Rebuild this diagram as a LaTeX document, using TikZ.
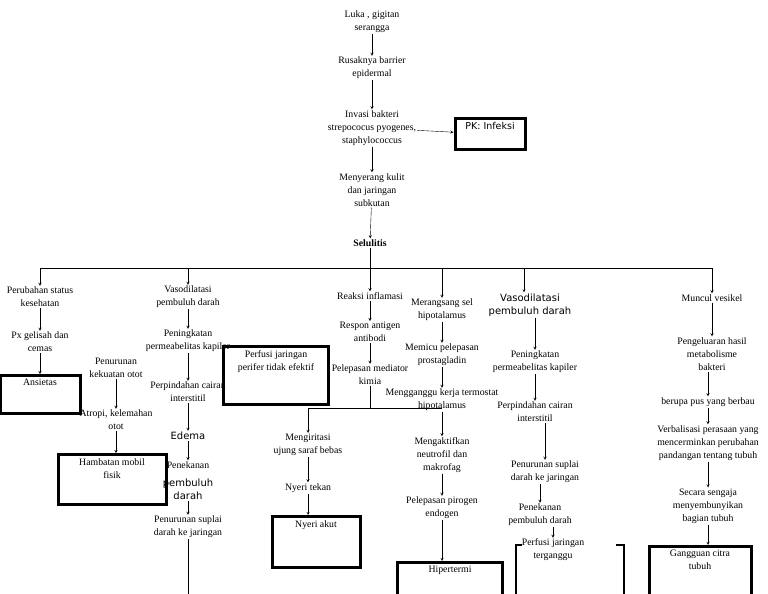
\documentclass[tikz,border=0pt]{standalone}
\usepackage{fontspec}
\setmainfont{Liberation Serif}
\newfontfamily\sansf{DejaVu Sans}
\usetikzlibrary{positioning}
\begin{document}
\begin{tikzpicture}[x=1pt,y=-1pt,
  txt/.style={align=center,font=\fontsize{9.8}{13}\selectfont,inner sep=1pt},
  stxt/.style={align=center,font=\sansf\fontsize{10}{13}\selectfont,inner sep=1pt},
  box/.style 2 args={draw,line width=3pt,minimum width=#1,text depth=#2,align=center,
     anchor=north,font=\fontsize{9.8}{13}\selectfont,inner xsep=2pt,inner ysep=4pt},
  arr/.style={->,>=stealth,thin}]
\useasboundingbox (0,0) rectangle (768,594);
% alur utama
\node[txt] (luka) at (372,22) {Luka , gigitan\\serangga};
\node[txt] (rusak) at (372,68) {Rusaknya barrier\\epidermal};
\node[txt] (invasi) at (372,128) {Invasi bakteri\\strepococus pyogenes,\\staphylococcus};
\node[box={70pt}{16pt},font=\sansf\fontsize{9.5}{12}\selectfont] (pk) at (490,117) {PK: Infeksi};
\node[txt] (serang) at (372,190) {Menyerang kulit\\dan jaringan\\subkutan};
\node[txt,font=\bfseries\fontsize{9.8}{13}\selectfont] (sel) at (370,243) {Selulitis};
\draw[arr] (luka) -- (rusak);
\draw[arr] (rusak) -- (invasi);
\draw[arr] (invasi) -- (pk);
\draw[arr] (invasi) -- (serang);
\draw[arr] (serang) -- (sel);
\coordinate (bar) at (370,268);
\draw (sel) -- (bar);
\draw (40,268) -- (712,268);
% kolom kiri
\node[txt] (ubah) at (40,297) {Perubahan status\\kesehatan};
\node[txt] (px) at (40,342) {Px gelisah dan\\cemas};
\node[box={80pt}{24pt}] (ans) at (40,374) {Ansietas};
\node[txt] (turun) at (116,368) {Penurunan\\kekuatan otot};
\node[txt] (atropi) at (116,420) {Atropi, kelemahan\\otot};
\node[box={108pt}{22pt}] (hmf) at (112,453) {Hambatan mobil\\fisik};
\draw[arr] (40,268) -- (ubah);
\draw[arr] (ubah) -- (px);
\draw[arr] (px) -- (ans);
\draw[arr] (turun) -- (atropi);
\draw[arr] (atropi) -- (hmf.north -| atropi);
% vasodilatasi kiri
\node[txt] (vaso1) at (188,297) {Vasodilatasi\\pembuluh darah};
\node[txt] (perm1) at (188,341) {Peningkatan\\permeabelitas kapiler};
\node[txt] (pind1) at (188,392) {Perpindahan cairan\\interstitil};
\node[stxt] (edema1) at (188,436) {Edema};
\node[txt] (tekan1) at (188,465) {Penekanan};
\node[stxt] (pd1) at (188,489) {pembuluh\\darah};
\node[txt] (supl1) at (188,527) {Penurunan suplai\\darah ke jaringan};
\node[box={105pt}{30pt}] (perfusi) at (276,345) {Perfusi jaringan\\perifer tidak efektif};
\coordinate (ujung1) at (188,594);
\draw[arr] (188,268) -- (vaso1);
\draw[arr] (vaso1) -- (perm1);
\draw[arr] (perm1) -- (pind1);
\draw[arr] (pind1) -- (edema1);
\draw[arr] (edema1) -- (tekan1);
\draw[arr] (pd1) -- (supl1);
\draw (supl1) -- (ujung1);
% inflamasi
\node[txt] (infl) at (370,296) {Reaksi inflamasi};
\node[txt] (resp) at (370,332) {Respon antigen\\antibodi};
\node[txt] (medi) at (370,375) {Pelepasan mediator\\kimia};
\node[txt] (irit) at (308,445) {Mengiritasi\\ujung saraf bebas};
\node[txt] (nytek) at (308,488) {Nyeri tekan};
\node[box={88pt}{36pt}] (nyeri) at (316,515) {Nyeri akut};
\coordinate (cab) at (370,408);
\draw[arr] (370,268) -- (infl);
\draw[arr] (infl) -- (resp);
\draw[arr] (resp) -- (medi);
\draw (medi) -- (cab);
\draw (308,408) -- (442,408);
\draw[arr] (308,408) -- (irit);
\draw[arr] (irit) -- (nytek);
\draw[arr] (nytek) -- (nyeri.north -| nytek);
% hipotalamus
\node[txt] (rang) at (442,310) {Merangsang sel\\hipotalamus};
\node[txt] (picu) at (442,355) {Memicu pelepasan\\prostagladin};
\node[txt] (term) at (442,400) {Mengganggu kerja termostat\\hipotalamus};
\node[txt] (aktif) at (442,455) {Mengaktifkan\\neutrofil dan\\makrofag};
\node[txt] (piro) at (442,508) {Pelepasan pirogen\\endogen};
\node[box={105pt}{20pt}] (hiper) at (450,561) {Hipertermi};
\draw[arr] (442,268) -- (rang);
\draw[arr] (rang) -- (picu);
\draw[arr] (picu) -- (term);
\draw[arr] (term) -- (aktif);
\draw[arr] (aktif) -- (piro);
\draw[arr] (piro) -- (hiper.north -| piro);
% vasodilatasi kanan
\node[stxt] (vaso2) at (530,305) {Vasodilatasi\\pembuluh darah};
\node[txt] (perm2) at (535,362) {Peningkatan\\permeabelitas kapiler};
\node[txt] (pind2) at (535,412) {Perpindahan cairan\\interstitil};
\node[txt] (supl2) at (545,472) {Penurunan suplai\\darah ke jaringan};
\node[txt] (tekan2) at (540,515) {Penekanan\\pembuluh darah};
\node[txt] (perf2) at (553,550) {Perfusi jaringan\\terganggu};
\draw[line width=2pt] (516,594) -- (516,545) -- (522,545);
\draw[line width=2pt] (616,545) -- (624,545) -- (624,594);
\draw[arr] (524,268) -- (vaso2.north -| 524,0);
\draw[arr] (vaso2.south -| perm2) -- (perm2);
\draw[arr] (perm2) -- (pind2);
\draw[arr] (pind2.south -| supl2) -- (supl2);
\draw[arr] (supl2.south -| tekan2) -- (tekan2);
\draw[arr] (tekan2.south -| perf2) -- (perf2);
% vesikel
\node[txt] (ves) at (712,298) {Muncul vesikel};
\node[txt] (kelu) at (712,354) {Pengeluaran hasil\\metabolisme\\bakteri};
\node[txt] (pus) at (708,402) {berupa pus yang berbau};
\node[txt] (verb) at (708,443) {Verbalisasi perasaan yang\\mencerminkan  perubahan\\pandangan tentang tubuh};
\node[txt] (sengaja) at (708,506) {Secara sengaja\\menyembunyikan\\bagian tubuh};
\node[box={102pt}{22pt}] (citra) at (700,545) {Gangguan citra\\tubuh};
\draw[arr] (712,268) -- (ves);
\draw[arr] (ves) -- (kelu);
\draw[arr] (kelu.south -| pus) -- (pus);
\draw[arr] (pus) -- (verb);
\draw[arr] (verb) -- (sengaja);
\draw[arr] (sengaja) -- (citra.north -| sengaja);
\end{tikzpicture}
\end{document}
